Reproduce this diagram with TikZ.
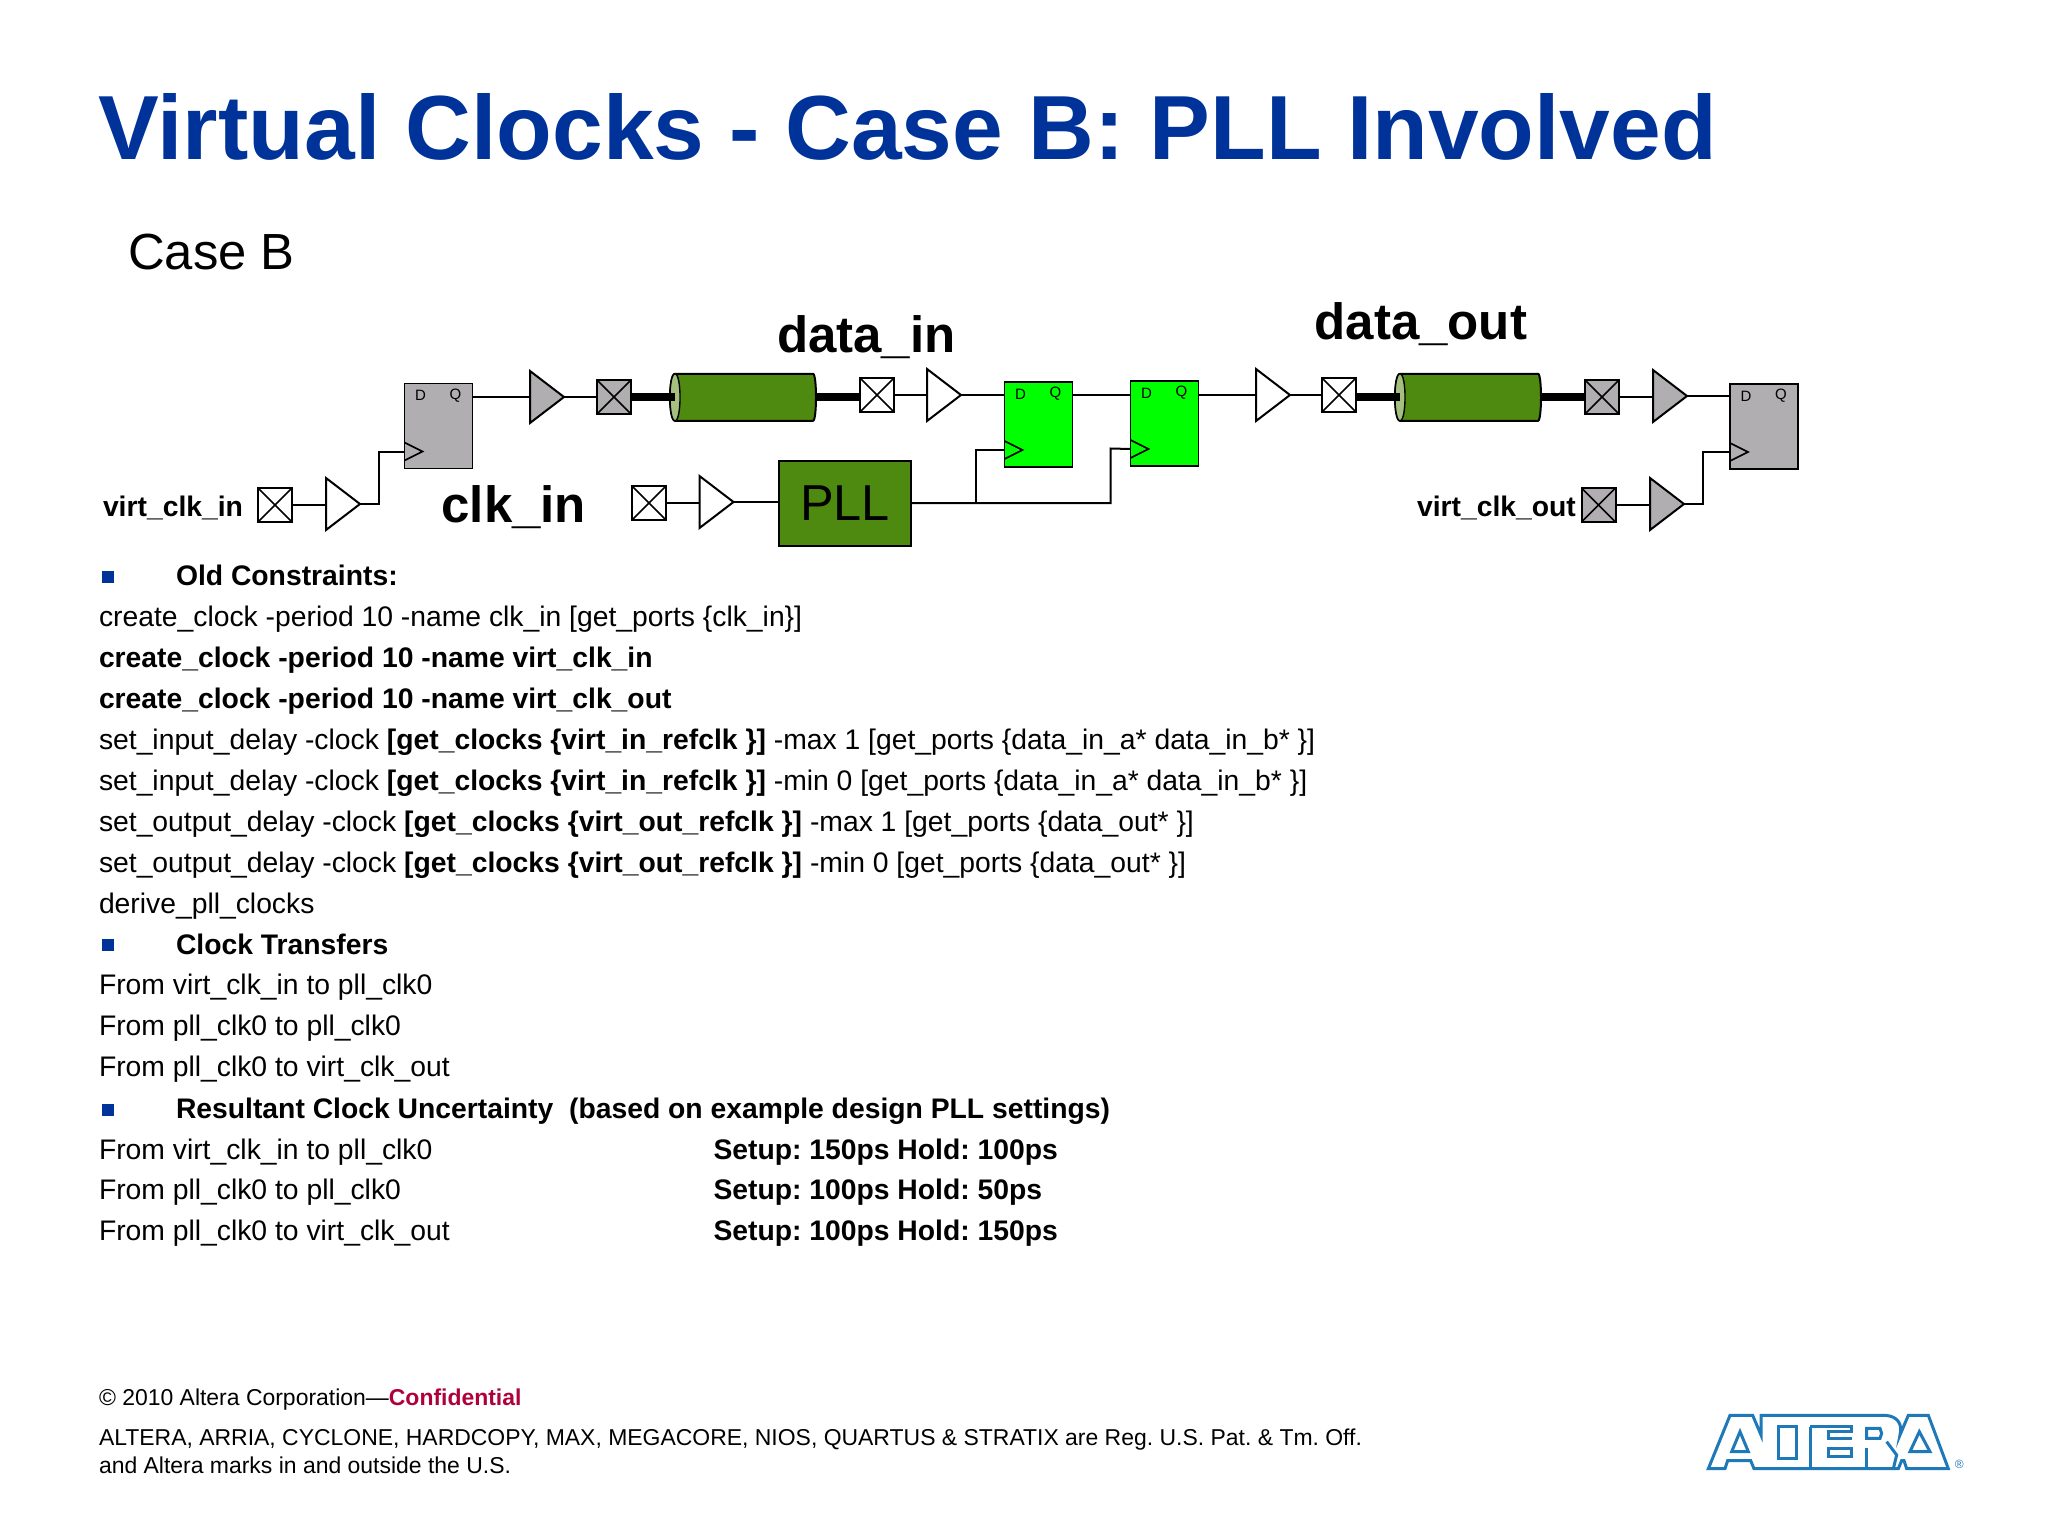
\documentclass[tikz,border=0pt]{standalone}
\usepackage{fontspec}
\setmainfont{Liberation Sans}
\usetikzlibrary{shapes.geometric,calc}
\definecolor{ttl}{HTML}{003399}
\definecolor{ffgray}{HTML}{B0AEB0}
\definecolor{dgreen}{HTML}{4E8A10}
\definecolor{lgreen}{HTML}{A4BF80}
\definecolor{bgreen}{HTML}{00FF00}
\definecolor{conf}{HTML}{B0003C}
\definecolor{logo}{HTML}{1F78B8}
\newcommand{\fsz}[1]{\fontsize{#1}{#1}\selectfont}
\tikzset{
  txt/.style={anchor=base west,inner sep=0pt,outer sep=0pt,font=\fsz{28.3}},
  foot/.style={anchor=base west,inner sep=0pt,outer sep=0pt,font=\fsz{22.95}},
  lab/.style={anchor=base west,inner sep=0pt,outer sep=0pt,font=\bfseries\fsz{#1}},
  wire/.style={draw=black,line width=2pt},
  thick wire/.style={draw=black,line width=8pt},
  pad/.style={draw=black,line width=2pt,minimum width=34pt,minimum height=34pt,inner sep=0pt,outer sep=0pt,anchor=north west,
    path picture={\draw[line width=1.6pt] (path picture bounding box.north west)--(path picture bounding box.south east)
      (path picture bounding box.north east)--(path picture bounding box.south west);}},
  buf/.style={isosceles triangle,isosceles triangle stretches,draw=black,line width=2pt,minimum height=34pt,minimum width=52pt,inner sep=0pt,outer sep=0pt,anchor=west},
  ffbox/.style={draw=black,line width=1.6pt,minimum width=68pt,minimum height=85pt,inner sep=0pt,outer sep=0pt,anchor=north west},
  pin/.style={inner sep=0pt,outer sep=0pt,font=\fsz{15}},
  tube/.style={minimum width=146pt,minimum height=47pt,inner sep=0pt,outer sep=0pt,anchor=center},
  tubeline/.style={draw=black,line width=2pt},
  bul/.style={fill=ttl,minimum size=12pt,inner sep=0pt,outer sep=0pt},
  logoline/.style={draw=logo,line width=3pt,line join=miter},
}
% \flop{name}{left}{top}{fill}
\newcommand{\flop}[4]{%
  \node[ffbox,fill=#4] (#1) at (#2,#3) {};
  \node[pin] (#1d) at ($(#2,#3)+(16,12)$) {D};
  \node[pin] (#1q) at ($(#2,#3)+(51,12)$) {Q};
  \coordinate (#1c) at ($(#2,#3)+(0,68)$);
  \draw[line width=1.6pt] ($(#1c)+(0,-9)$) -- ($(#1c)+(18,0)$) -- ($(#1c)+(0,9)$);
}
% \tubebody{node}: cylinder drawn over the node's box
\newcommand{\tubebody}[1]{%
  \draw[tubeline,fill=dgreen] ($(#1.north west)+(5,0)$) -- ($(#1.north east)+(-3,0)$)
    .. controls ($(#1.north east)+(1,0)$) and ($(#1.south east)+(1,0)$) .. ($(#1.south east)+(-3,0)$)
    -- ($(#1.south west)+(5,0)$)
    .. controls ($(#1.south west)+(-1.7,0)$) and ($(#1.north west)+(-1.7,0)$) .. ($(#1.north west)+(5,0)$) -- cycle;
  \draw[tubeline,line width=1.4pt,fill=lgreen] ($(#1.north west)+(5,0)$)
    .. controls ($(#1.north west)+(-1.7,0)$) and ($(#1.south west)+(-1.7,0)$) .. ($(#1.south west)+(5,0)$)
    .. controls ($(#1.south west)+(11.7,0)$) and ($(#1.north west)+(11.7,0)$) .. ($(#1.north west)+(5,0)$) -- cycle;
}
\begin{document}
\frenchspacing
\begin{tikzpicture}[x=1pt,y=-1pt]
\useasboundingbox (0,0) rectangle (2048,1536);
\fill[white] (0,0) rectangle (2048,1536);

% headings
\node[lab=91.1,text=ttl] (title) at (98.5,160) {Virtual Clocks - Case B: PLL Involved};
\node[anchor=base west,inner sep=0pt,font=\fsz{50.8}] (caseb) at (128,269.5) {Case B};
\node[lab=51] (dataIn) at (777,352) {data\_in};
\node[lab=51] (dataOut) at (1314.5,339) {data\_out};
\node[lab=51] (clkIn) at (441.5,522) {clk\_in};
\node[lab=28.3] (virtIn) at (103,516) {virt\_clk\_in};
\node[lab=28.3] (virtOut) at (1417,516) {virt\_clk\_out};

% flops
\flop{ffa}{404.5}{383.5}{ffgray}
\flop{ffb}{1004.5}{382}{bgreen}
\flop{ffc}{1130.5}{381}{bgreen}
\flop{ffd}{1730}{384}{ffgray}

% virt_clk_in path
\node[pad] (p1) at (258,488) {};
\node[buf] (b1) at (326,504) {};
\draw[wire] (p1.east) -- (b1.west |- p1.east);
\draw[wire] (b1.east) -- (378.5,504) -- (378.5,451.5) -- (ffa.west |- ffac);

% data_in path
\node[buf,fill=ffgray] (b2) at (530,397) {};
\node[pad,fill=ffgray] (p2) at (597,380) {};
\node[tube] (c1) at (743,397.3) {};
\tubebody{c1}
\node[pad] (p3) at (860,378) {};
\node[buf] (b3) at (927,395) {};
\draw[wire] (ffa.east |- b2.west) -- (b2.west);
\draw[wire] (b2.east) -- (p2.west);
\draw[thick wire] (p2.east |- c1.west) -- ($(c1.west)+(5,0)$);
\draw[thick wire] (c1.east) -- (p3.west |- c1.east);
\draw[wire] (p3.east) -- (b3.west);
\draw[wire] (b3.east) -- (ffb.west |- b3.east);
\draw[wire] (ffb.east |- b3.east) -- (ffc.west |- b3.east);

% clk_in path
\node[pad] (p4) at (632,486) {};
\node[buf] (b4) at (699.5,502) {};
\node[draw=black,line width=2.4pt,fill=dgreen,minimum width=132pt,minimum height=85pt,inner sep=0pt,outer sep=0pt,font=\fsz{50.5}] (pll) at (845,503.5) {PLL};
\draw[wire] (p4.east) -- (b4.west |- p4.east);
\draw[wire] (b4.east) -- (pll.west |- b4.east);
\coordinate (jn) at (975.5,503);
\draw[wire] (pll.east |- jn) -- (1110.5,503) -- (1110.5,448.5) -- (ffc.west |- ffcc);
\draw[wire] (jn) -- (975.5,450) -- (ffb.west |- ffbc);

% data_out path
\node[buf] (b5) at (1256,395) {};
\node[pad] (p5) at (1322,378) {};
\node[tube] (c2) at (1468,397.3) {};
\tubebody{c2}
\node[pad,fill=ffgray] (p6) at (1585,380) {};
\node[buf,fill=ffgray] (b6) at (1653,396) {};
\draw[wire] (ffc.east |- b5.west) -- (b5.west);
\draw[wire] (b5.east) -- (p5.west);
\draw[thick wire] (p5.east |- c2.west) -- ($(c2.west)+(5,0)$);
\draw[thick wire] (c2.east) -- (p6.west |- c2.east);
\draw[wire] (p6.east) -- (b6.west |- p6.east);
\draw[wire] (b6.east) -- (ffd.west |- b6.east);

% virt_clk_out path
\node[pad,fill=ffgray] (p7) at (1581.5,488) {};
\node[buf,fill=ffgray] (b7) at (1650,504) {};
\draw[wire] (p7.east) -- (b7.west |- p7.east);
\draw[wire] (b7.east) -- (1703,504) -- (1703,452) -- (ffd.west |- ffdc);

% body text
\node[bul] (s1) at (107.5,576.5) {};
\node[lab=28.3] (t1) at (176,585.6) {Old Constraints:};
\node[txt] (t2) at (99,626.4) {create\_clock -period 10 -name clk\_in [get\_ports \{clk\_in\}]};
\node[txt,font=\bfseries\fsz{28.3}] (t3) at (99,667.4) {create\_clock -period 10 -name virt\_clk\_in};
\node[txt,font=\bfseries\fsz{28.3}] (t4) at (99,708.4) {create\_clock -period 10 -name virt\_clk\_out};
\node[txt] (t5) at (99,749.4) {set\_input\_delay -clock \textbf{[get\_clocks \{virt\_in\_refclk \}]} -max 1 [get\_ports \{data\_in\_a* data\_in\_b* \}]};
\node[txt] (t6) at (99,790.3) {set\_input\_delay -clock \textbf{[get\_clocks \{virt\_in\_refclk \}]} -min 0 [get\_ports \{data\_in\_a* data\_in\_b* \}]};
\node[txt] (t7) at (99,831.2) {set\_output\_delay -clock \textbf{[get\_clocks \{virt\_out\_refclk \}]} -max 1 [get\_ports \{data\_out* \}]};
\node[txt] (t8) at (99,872.1) {set\_output\_delay -clock \textbf{[get\_clocks \{virt\_out\_refclk \}]} -min 0 [get\_ports \{data\_out* \}]};
\node[txt] (t9) at (99,913) {derive\_pll\_clocks};
\node[bul] (s2) at (107.5,945) {};
\node[lab=28.3] (t10) at (176,954.3) {Clock Transfers};
\node[txt] (t11) at (99,994.8) {From virt\_clk\_in to pll\_clk0};
\node[txt] (t12) at (99,1035.7) {From pll\_clk0 to pll\_clk0};
\node[txt] (t13) at (99,1076.6) {From pll\_clk0 to virt\_clk\_out};
\node[bul] (s3) at (107.5,1109.5) {};
\node[lab=28.3] (t14) at (176,1118.3) {Resultant Clock Uncertainty\ \ (based on example design PLL settings)};
\node[txt] (t15) at (99,1159) {From virt\_clk\_in to pll\_clk0};
\node[lab=28.3] (t16) at (713.5,1159) {Setup: 150ps Hold: 100ps};
\node[txt] (t17) at (99,1199.9) {From pll\_clk0 to pll\_clk0};
\node[lab=28.3] (t18) at (713.5,1199.9) {Setup: 100ps Hold: 50ps};
\node[txt] (t19) at (99,1240.8) {From pll\_clk0 to virt\_clk\_out};
\node[lab=28.3] (t20) at (713.5,1240.8) {Setup: 100ps Hold: 150ps};

% footer
\node[foot] (f1) at (99,1405) {© 2010 Altera Corporation—\textcolor{conf}{\textbf{Confidential}}};
\node[foot] (f2) at (99,1445) {ALTERA, ARRIA, CYCLONE, HARDCOPY, MAX, MEGACORE, NIOS, QUARTUS \& STRATIX are Reg. U.S. Pat. \& Tm. Off.};
\node[foot] (f3) at (99,1473) {and Altera marks in and outside the U.S.};

% logo
\begin{scope}[shift={(1680,1390)},x=.3333pt,y=-.3333pt]
\draw[logoline,fill=white] (85,236) -- (150,76) -- (218,76) -- (243,135) -- (243,76) -- (615,76)
  .. controls (655,78) and (668,105) .. (660,135) -- (685,76) -- (745,76) -- (805,236) -- (680,236)
  -- (672,212) -- (665,212) -- (655,236) -- (222,236) -- (212,212)
  -- (143,212) -- (135,236) -- cycle;
\draw[logoline] (155,185) -- (180,125) -- (205,185) -- cycle;
\draw[logoline] (690,185) -- (718,125) -- (750,185) -- cycle;
\draw[logoline] (295,110) -- (350,110) -- (350,205) -- (295,205) -- cycle;
\draw[logoline] (390,110) -- (515,110) -- (515,125) -- (445,125) -- (445,145) -- (515,145);
\draw[logoline] (390,110) -- (390,236);
\draw[logoline] (445,175) -- (515,175) -- (515,200) -- (445,200) -- cycle;
\draw[logoline] (560,115) -- (600,115) -- (605,130) -- (600,145) -- (560,145) -- cycle;
\draw[logoline] (560,175) -- (560,236);
\draw[logoline] (620,155) -- (650,195) -- (640,236);
\node[anchor=center,inner sep=0pt,text=logo,font=\fsz{12}] (reg) at (838,224) {®};
\end{scope}
\end{tikzpicture}
\end{document}
